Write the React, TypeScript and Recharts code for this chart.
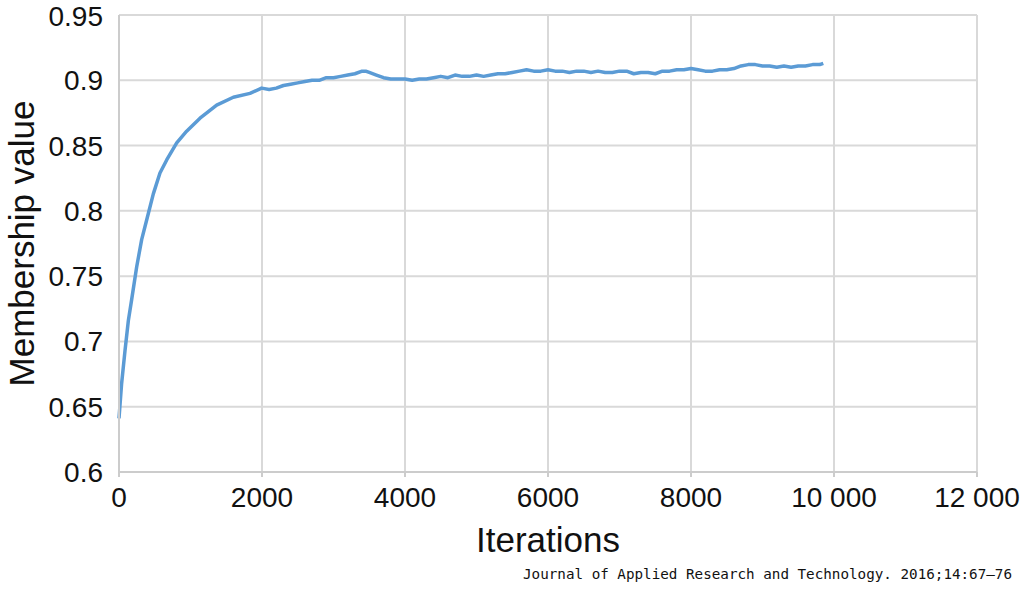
import { LineChart, Line, XAxis, YAxis, CartesianGrid } from 'recharts';

// iteration counts (x) and membership values (y)
const iterations = [
  0, 37, 84, 131, 177, 247, 317, 387, 480, 573, 667, 807, 946, 1133, 1366, 1599, 1832, 1995,
  2100, 2200, 2300, 2400, 2500, 2600, 2700, 2800, 2900, 3000, 3100, 3200, 3300, 3400, 3450,
  3500, 3600, 3700, 3800, 3900, 4000, 4100, 4200, 4300, 4400, 4500, 4600, 4700, 4800, 4900,
  5000, 5100, 5200, 5300, 5400, 5500, 5600, 5700, 5800, 5900, 6000, 6100, 6200, 6300, 6400,
  6500, 6600, 6700, 6800, 6900, 7000, 7100, 7200, 7300, 7400, 7500, 7600, 7700, 7800, 7900,
  8000, 8100, 8200, 8300, 8400, 8500, 8600, 8700, 8800, 8900, 9000, 9100, 9200, 9300, 9400,
  9500, 9600, 9700, 9800, 9850,
];

const membership = [
  0.641, 0.668, 0.693, 0.716, 0.732, 0.757, 0.778, 0.793, 0.813, 0.829, 0.839, 0.852, 0.861, 0.871, 0.881, 0.887, 0.890, 0.894,
  0.893, 0.894, 0.896, 0.897, 0.898, 0.899, 0.900, 0.900, 0.902, 0.902, 0.903, 0.904, 0.905, 0.907, 0.907,
  0.906, 0.904, 0.902, 0.901, 0.901, 0.901, 0.900, 0.901, 0.901, 0.902, 0.903, 0.902, 0.904, 0.903, 0.903,
  0.904, 0.903, 0.904, 0.905, 0.905, 0.906, 0.907, 0.908, 0.907, 0.907, 0.908, 0.907, 0.907, 0.906, 0.907,
  0.907, 0.906, 0.907, 0.906, 0.906, 0.907, 0.907, 0.905, 0.906, 0.906, 0.905, 0.907, 0.907, 0.908, 0.908,
  0.909, 0.908, 0.907, 0.907, 0.908, 0.908, 0.909, 0.911, 0.912, 0.912, 0.911, 0.911, 0.910, 0.911, 0.910,
  0.911, 0.911, 0.912, 0.912, 0.913,
];

const xTicks = [0, 2000, 4000, 6000, 8000, 10000, 12000];
const yTicks = [0.6, 0.65, 0.7, 0.75, 0.8, 0.85, 0.9, 0.95];

const data = iterations.map((iter, i) => ({ iter, value: membership[i] }));

const font = '"Liberation Sans", Arial, Helvetica, sans-serif';

const fmtX = (v: number) => (v >= 10000 ? `${Math.floor(v / 1000)} ${String(v % 1000).padStart(3, '0')}` : String(v));
const fmtY = (v: number) => String(Number(v.toFixed(2)));

export default function App() {
  return (
    <div style={{ position: 'absolute', left: 0, top: 0, width: 1024, height: 598, background: '#fff' }}>
      <LineChart width={1024} height={598} data={data} margin={{ top: 15, right: 47, bottom: 0, left: 0 }}>
        <CartesianGrid stroke="#d9d9d9" strokeWidth={2} />
        <XAxis
          dataKey="iter"
          type="number"
          domain={[0, 12000]}
          ticks={xTicks}
          tickFormatter={fmtX}
          height={126}
          stroke="#cccccc"
          strokeWidth={2}
          tickSize={5}
          tickMargin={10}
          tick={{ fill: '#111', fontSize: 28, fontFamily: font }}
          label={{ value: 'Iterations', position: 'insideBottom', offset: 46, fill: '#111', fontSize: 35, fontFamily: font }}
        />
        <YAxis
          type="number"
          domain={[0.6, 0.95]}
          ticks={yTicks}
          tickFormatter={fmtY}
          width={119}
          stroke="#cccccc"
          strokeWidth={2}
          tickLine={false}
          tickSize={0}
          tickMargin={16}
          tick={{ fill: '#111', fontSize: 28, fontFamily: font }}
          label={{
            content: (props: any) => {
              const vb = props.viewBox || { x: 0, y: 15, height: 457 };
              const x = vb.x + 21;
              const y = vb.y + vb.height / 2;
              return (
                <text
                  x={x}
                  y={y}
                  transform={`rotate(-90, ${x}, ${y})`}
                  textAnchor="middle"
                  dominantBaseline="central"
                  fill="#111"
                  fontSize={35}
                  fontFamily={font}
                >
                  Membership value
                </text>
              );
            },
          }}
        />
        <Line
          type="linear"
          dataKey="value"
          stroke="#5b9bd5"
          strokeWidth={3.5}
          strokeLinejoin="round"
          dot={false}
          isAnimationActive={false}
        />
      </LineChart>
      <div
        style={{
          position: 'absolute',
          left: 523,
          top: 566,
          fontFamily: '"DejaVu Sans Mono", monospace',
          fontSize: 14.25,
          color: '#111',
          whiteSpace: 'nowrap',
        }}
      >
        Journal of Applied Research and Technology. 2016;14:67–76
      </div>
    </div>
  );
}
